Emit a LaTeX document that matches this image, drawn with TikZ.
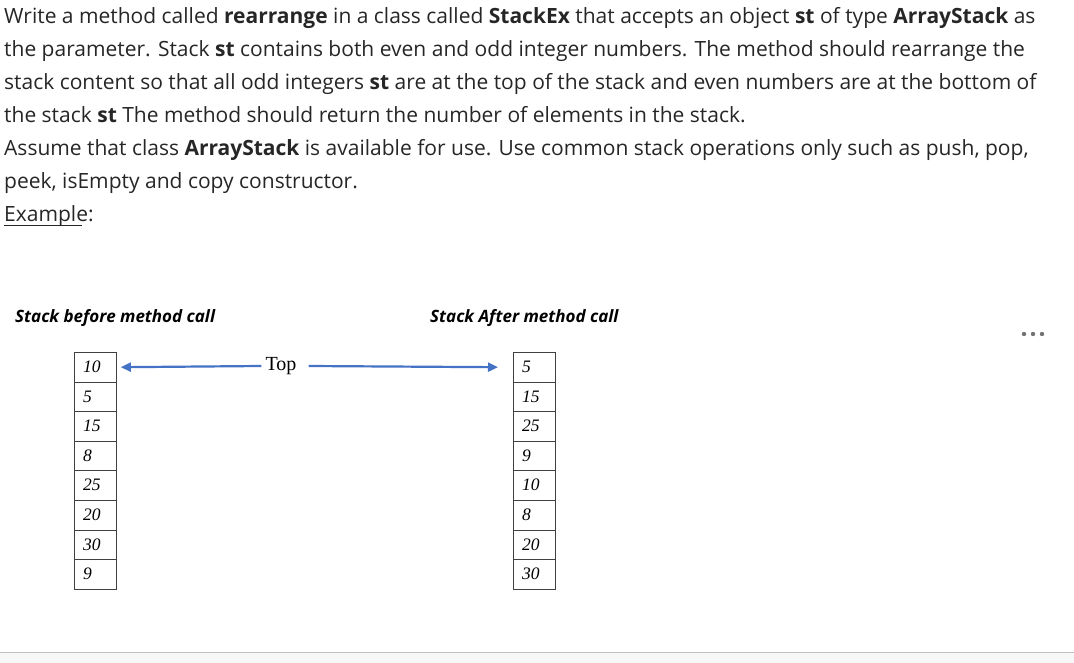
\documentclass[tikz,border=0pt]{standalone}
\usepackage{fontspec}
\setmainfont{Open Sans}
\newfontfamily\serifn{Liberation Serif}
\usetikzlibrary{arrows.meta}
\definecolor{arrblue}{HTML}{4472C4}
\begin{document}
\begin{tikzpicture}[x=1pt,y=-1pt,
  para/.style={anchor=base west,inner sep=0pt,font=\fontsize{21}{24}\selectfont,text=black!85},
  cell/.style={draw=black!75,line width=0.8pt,minimum width=42pt,minimum height=29.6pt,inner sep=0pt,anchor=north west},
  num/.style={anchor=west,inner sep=0pt,font=\serifn\itshape\fontsize{17.5}{18}\selectfont},
  head/.style={anchor=base west,inner sep=0pt,font=\bfseries\itshape\fontsize{17}{18}\selectfont},
  arr/.style={draw=arrblue,line width=2.2pt,-{Triangle[length=10pt,width=9pt]}}]
\useasboundingbox (0,0) rectangle (1074,663);
\fill[black!3] (0,652) rectangle (1074,663);
\draw[black!25,line width=1pt] (0,652) -- (1074,652);
\node[para] (l1) at (4,24) {Write a method called \textbf{rearrange} in a class called \textbf{StackEx} that accepts an object \textbf{st} of type \textbf{ArrayStack} as};
\node[para] (l2) at (4,57) {the parameter. Stack \textbf{st} contains both even and odd integer numbers. The method should rearrange the};
\node[para] (l3) at (4,90) {stack content so that all odd integers \textbf{st} are at the top of the stack and even numbers are at the bottom of};
\node[para] (l4) at (4,123) {the stack \textbf{st} The method should return the number of elements in the stack.};
\node[para] (l5) at (4,156) {Assume that class \textbf{ArrayStack} is available for use. Use common stack operations only such as push, pop,};
\node[para] (l6) at (4,189) {peek, isEmpty and copy constructor.};
\node[para] (l7) at (4,222) {Example:};
\draw[black!85,line width=1pt] (4,226) -- (82,226);
\node[head] (h1) at (15,323) {Stack before method call};
\node[head] (h2) at (430,323) {Stack After method call};
\foreach \dx in {-9,0,9} \fill[black!55] (1033+\dx,334) circle (2.2pt);
\foreach \v [count=\i from 0] in {10,5,15,8,25,20,30,9}{
  \node[cell] (a\i) at (74,352+29.6*\i) {};
  \node[num] at (83,366.8+29.6*\i) {\v};
}
\foreach \v [count=\i from 0] in {5,15,25,9,10,8,20,30}{
  \node[cell] (b\i) at (513,352+29.6*\i) {};
  \node[num] at (522,366.8+29.6*\i) {\v};
}
\node[font=\serifn\fontsize{20}{20}\selectfont,inner sep=0pt] (top) at (281,366) {Top};
\draw[arr] ([xshift=-4pt]top.west) -- ([xshift=4pt]a0.east);
\draw[arr] ([xshift=12pt]top.east) -- ([xshift=-15pt]b0.west);
\end{tikzpicture}
\end{document}
